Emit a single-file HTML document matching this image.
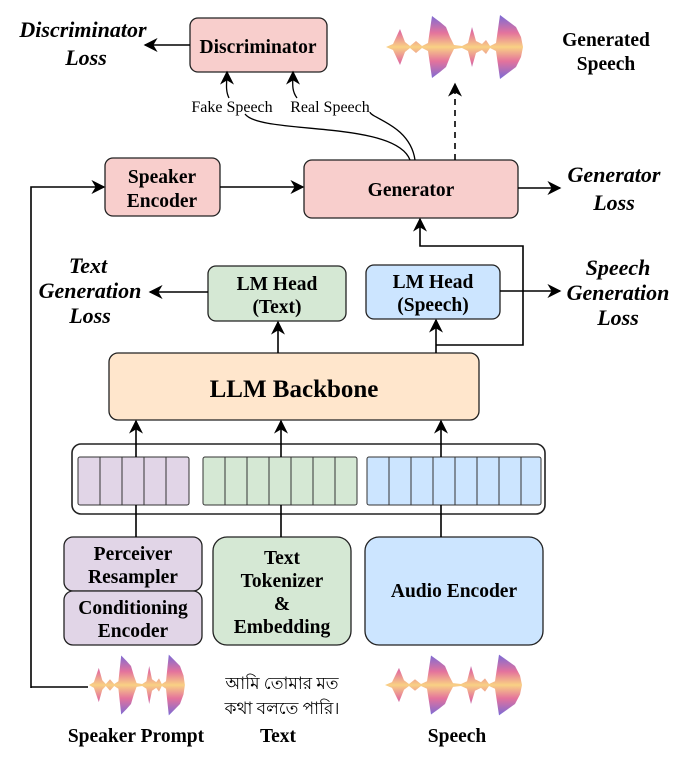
<!DOCTYPE html>
<html><head><meta charset="utf-8"><style>
html,body{margin:0;padding:0;background:#fff;}
svg text{font-family:"Liberation Serif","DejaVu Serif",serif;}
.b{font-weight:bold;font-size:19.5px;}
.i{font-weight:bold;font-style:italic;font-size:22px;}
</style></head><body>
<svg width="689" height="766" viewBox="0 0 689 766" xmlns="http://www.w3.org/2000/svg">
<defs>
<marker id="ah2" viewBox="0 0 10 10" refX="9" refY="5" markerWidth="14" markerHeight="14" orient="auto" markerUnits="userSpaceOnUse">
<path d="M0,0 L10,5 L0,10 L3,5 Z" fill="#000"/></marker>
<linearGradient id="wg" gradientUnits="userSpaceOnUse" x1="0" y1="-32" x2="0" y2="32">
<stop offset="0" stop-color="#7a6ad6"/><stop offset="0.28" stop-color="#e4739c"/>
<stop offset="0.5" stop-color="#f9d184"/><stop offset="0.72" stop-color="#e4739c"/>
<stop offset="1" stop-color="#7a6ad6"/></linearGradient>
<g id="wave"><polygon fill="url(#wg)" points="0,0 7,-3 14,-18 19,-5 24,-1 30,-6 36,-1 42,-4 46,-31 54,-25 60,-20 64,-10 68,-2 76,-1 82,-4 86,-20 90,-6 96,-3 100,-7 104,-1 110,-4 114,-32 122,-26 130,-20 135,-10 137,0 135,10 130,20 122,26 114,32 110,4 104,1 100,7 96,3 90,6 86,20 82,4 76,1 68,2 64,10 60,20 54,25 46,31 42,4 36,1 30,6 24,1 19,5 14,18 7,3"/></g>
</defs>
<g stroke="#222" stroke-width="1.3">
<rect x="190" y="18" width="137" height="54" rx="8" fill="#f8cecc"/>
<rect x="105" y="158" width="115" height="58" rx="8" fill="#f8cecc"/>
<rect x="304" y="160" width="214" height="58" rx="8" fill="#f8cecc"/>
<rect x="208" y="266" width="138" height="55" rx="8" fill="#d5e8d4"/>
<rect x="366" y="265" width="134" height="54" rx="8" fill="#cce5ff"/>
<rect x="109" y="353" width="370" height="67" rx="9" fill="#ffe6cc"/>
<rect x="72" y="444" width="473" height="70" rx="9" fill="#fff" stroke-width="1.6"/>
<rect x="64" y="537" width="138" height="54" rx="9" fill="#e1d5e7"/>
<rect x="64" y="591" width="138" height="54" rx="9" fill="#e1d5e7"/>
<rect x="213" y="537" width="138" height="108" rx="14" fill="#d5e8d4"/>
<rect x="365" y="537" width="178" height="108" rx="14" fill="#cce5ff"/>
</g>
<g stroke="#333" stroke-width="1">
<rect x="78" y="457" width="111" height="48" rx="2" fill="#e1d5e7"/>
<path d="M100,457V505M122,457V505M144,457V505M166,457V505"/>
<rect x="203" y="457" width="154" height="48" rx="2" fill="#d5e8d4"/>
<path d="M225,457V505M247,457V505M269,457V505M291,457V505M313,457V505M335,457V505"/>
<rect x="367" y="457" width="174" height="48" rx="2" fill="#cce5ff"/>
<path d="M389,457V505M411,457V505M433,457V505M455,457V505M477,457V505M499,457V505M521,457V505"/>
</g>
<g stroke="#000" stroke-width="1.6" fill="none">
<path d="M190,45H145" marker-end="url(#ah2)"/>
<path d="M220,187H303" marker-end="url(#ah2)"/>
<path d="M518,188H560" marker-end="url(#ah2)"/>
<path d="M31,688V187H104" marker-end="url(#ah2)"/>
<path d="M88,687H31"/>
<path d="M208,292H150" marker-end="url(#ah2)"/>
<path d="M500,291H560" marker-end="url(#ah2)"/>
<path d="M436,345H523V246H420V219" marker-end="url(#ah2)"/>
<path d="M278,353V322" marker-end="url(#ah2)"/>
<path d="M436,353V320" marker-end="url(#ah2)"/>
<path d="M136,457V421" marker-end="url(#ah2)"/>
<path d="M281,457V421" marker-end="url(#ah2)"/>
<path d="M441,457V421" marker-end="url(#ah2)"/>
<path d="M136,537V505M281,537V505M441,537V505"/>
<path d="M455,160V84" stroke-dasharray="6,5" marker-end="url(#ah2)"/>
<path d="M415,160C410,125 370,118 370,112" stroke-width="1.3"/>
<path d="M410,160C395,120 260,135 245,114" stroke-width="1.3"/>
<path d="M229,98C225,90 227,82 227,72" stroke-width="1.3" marker-end="url(#ah2)"/>
<path d="M297,98C291,90 293,82 293,72" stroke-width="1.3" marker-end="url(#ah2)"/>
</g>
<use href="#wave" transform="translate(386,47)"/>
<use href="#wave" transform="translate(89,685) scale(0.7,0.95)"/>
<use href="#wave" transform="translate(385,685) scale(1,0.95)"/>
<g text-anchor="middle">
<text class="b" x="258" y="53">Discriminator</text>
<text class="i" x="83" y="37">Discriminator</text>
<text class="i" x="86" y="65">Loss</text>
<text class="b" x="606" y="46">Generated</text>
<text class="b" x="606" y="70">Speech</text>
<text x="232" y="112" font-size="16">Fake Speech</text>
<text x="330" y="112" font-size="16">Real Speech</text>
<text class="b" x="162" y="183">Speaker</text>
<text class="b" x="162" y="207">Encoder</text>
<text class="b" x="411" y="196">Generator</text>
<text class="i" x="614" y="182">Generator</text>
<text class="i" x="614" y="210">Loss</text>
<text class="i" x="88" y="273">Text</text>
<text class="i" x="90" y="298">Generation</text>
<text class="i" x="90" y="323">Loss</text>
<text class="i" x="618" y="275">Speech</text>
<text class="i" x="618" y="300">Generation</text>
<text class="i" x="618" y="325">Loss</text>
<text class="b" x="277" y="290">LM Head</text>
<text class="b" x="277" y="313">(Text)</text>
<text class="b" x="433" y="288">LM Head</text>
<text class="b" x="433" y="311">(Speech)</text>
<text x="294" y="397" font-weight="bold" font-size="25">LLM Backbone</text>
<text class="b" x="133" y="560">Perceiver</text>
<text class="b" x="133" y="583">Resampler</text>
<text class="b" x="133" y="614">Conditioning</text>
<text class="b" x="133" y="637">Encoder</text>
<text class="b" x="282" y="564">Text</text>
<text class="b" x="282" y="587">Tokenizer</text>
<text class="b" x="282" y="610">&amp;</text>
<text class="b" x="282" y="633">Embedding</text>
<text class="b" x="454" y="597">Audio Encoder</text>
<text x="282" y="689" font-size="17" font-family="'Noto Sans Bengali','Lohit Bengali','FreeSerif',serif">আমি তোমার মত</text>
<text x="282" y="714" font-size="17" font-family="'Noto Sans Bengali','Lohit Bengali','FreeSerif',serif">কথা বলতে পারি।</text>
<text class="b" x="136" y="742">Speaker Prompt</text>
<text class="b" x="278" y="742">Text</text>
<text class="b" x="457" y="742">Speech</text>
</g>
</svg>
</body></html>
